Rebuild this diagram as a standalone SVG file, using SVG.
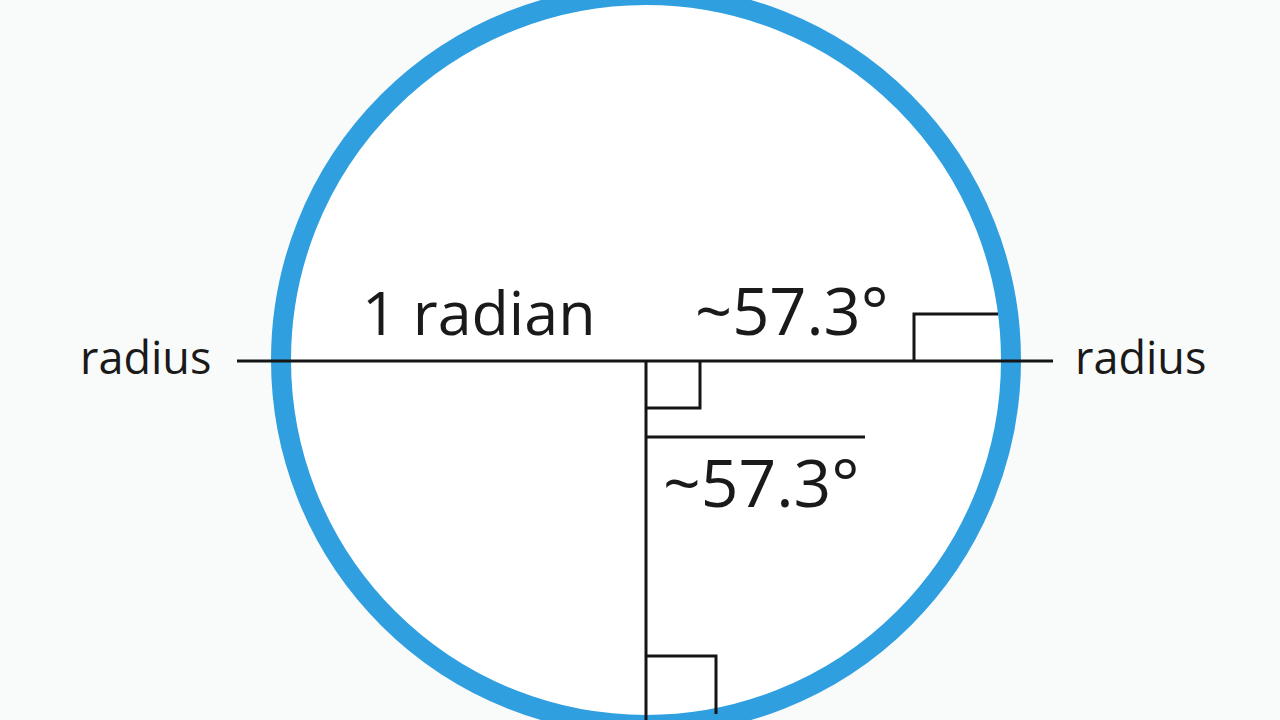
<svg xmlns="http://www.w3.org/2000/svg" width="1280" height="720" viewBox="0 0 1280 720">
<style>
.ln{stroke:#151515;stroke-width:3;fill:none;stroke-linecap:butt}
.t{font-family:"Open Sans","Noto Sans",sans-serif;fill:#1a1a1a}
</style>
<rect width="1280" height="720" fill="#f9fafa"/>
<g id="circle">
<circle cx="646" cy="360" r="365" fill="#ffffff" stroke="#2f9fe0" stroke-width="20"/>
</g>
<g id="connectors">
<line class="ln" x1="237" y1="361" x2="1053" y2="361"/>
<line class="ln" x1="646" y1="361" x2="646" y2="720"/>
<polyline class="ln" points="646,408 700,408 700,361"/>
<line class="ln" x1="646" y1="437" x2="865" y2="437"/>
<polyline class="ln" points="914,361 914,314 998,314"/>
<polyline class="ln" points="646,656 716,656 716,714"/>
</g>
<g id="label-radius-left"><text class="t" x="80" y="374" font-size="45">radius</text></g>
<g id="label-radius-right"><text class="t" x="1075" y="374" font-size="45">radius</text></g>
<g id="label-radian"><text class="t" x="362" y="335" font-size="61">1 radian</text></g>
<g id="label-angle-top"><text class="t" x="695" y="335" font-size="65">~57.3°</text></g>
<g id="label-angle-bottom"><text class="t" x="663" y="507" font-size="66">~57.3°</text></g>
</svg>
